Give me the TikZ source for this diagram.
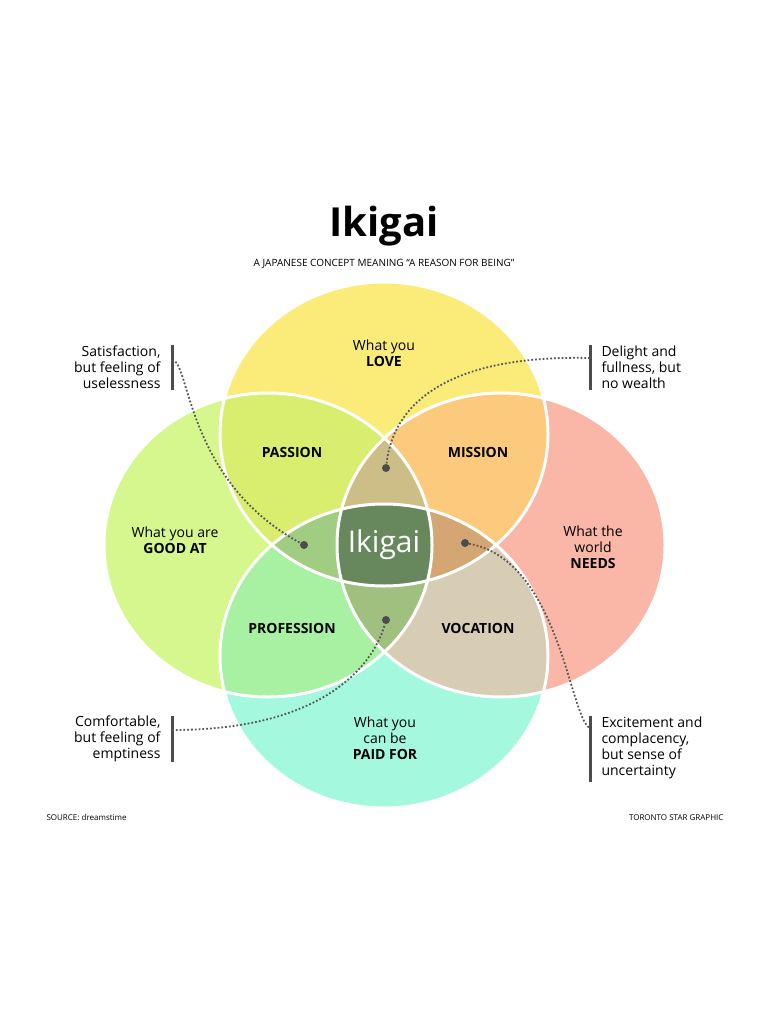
\documentclass[tikz,border=0pt]{standalone}
\usepackage{fontspec}
\setmainfont{Open Sans}
\usetikzlibrary{positioning}
\definecolor{cLove}{RGB}{251,236,122}
\definecolor{cGood}{RGB}{214,246,142}
\definecolor{cNeeds}{RGB}{250,182,166}
\definecolor{cPaid}{RGB}{163,248,222}
\definecolor{cPassion}{RGB}{217,237,110}
\definecolor{cMission}{RGB}{251,202,125}
\definecolor{cProfession}{RGB}{168,241,163}
\definecolor{cVocation}{RGB}{214,205,180}
\definecolor{cUpper}{RGB}{205,190,135}
\definecolor{cLeft}{RGB}{160,205,130}
\definecolor{cRight}{RGB}{212,166,115}
\definecolor{cLower}{RGB}{160,192,128}
\definecolor{cCore}{RGB}{102,136,92}
\def\cTop{(384,434) ellipse (164pt and 152pt)}
\def\cLft{(268,545) ellipse (164pt and 152pt)}
\def\cRgt{(501,545) ellipse (164pt and 152pt)}
\def\cBot{(384,656) ellipse (164pt and 152pt)}
\tikzset{
  label/.style={font=\fontsize{14}{16}\selectfont, align=center},
  region/.style={font=\fontsize{14}{16}\selectfont\bfseries},
  note/.style={font=\fontsize{14}{16}\selectfont},
  bar/.style={line width=3pt, black!70},
  lead/.style={dotted, line width=1.8pt, black!65},
  spot/.style={circle, fill=black!70, inner sep=0pt, minimum size=8pt}
}
\begin{document}
\begin{tikzpicture}[x=1pt, y=-1pt]
  \useasboundingbox (0,0) rectangle (768,1024);
  \fill[white] (0,0) rectangle (768,1024);
  % circles
  \fill[cLove] \cTop;
  \fill[cGood] \cLft;
  \fill[cNeeds] \cRgt;
  \fill[cPaid] \cBot;
  % pairs
  \begin{scope} \clip \cTop; \fill[cPassion] \cLft; \fill[cMission] \cRgt; \end{scope}
  \begin{scope} \clip \cBot; \fill[cProfession] \cLft; \fill[cVocation] \cRgt; \end{scope}
  % triples
  \begin{scope} \clip \cLft; \clip \cRgt; \fill[cUpper] \cTop; \fill[cLower] \cBot; \end{scope}
  \begin{scope} \clip \cTop; \clip \cBot; \fill[cLeft] \cLft; \fill[cRight] \cRgt; \end{scope}
  % core
  \begin{scope} \clip \cTop; \clip \cBot; \clip \cLft; \fill[cCore] \cRgt; \end{scope}
  \draw[white, line width=3pt] \cTop \cLft \cRgt \cBot;
  % titles
  \node[font=\fontsize{40}{44}\selectfont\bfseries] (title) at (384,226) {Ikigai};
  \node[font=\fontsize{10}{12}\selectfont] (sub) at (384,264) {A JAPANESE CONCEPT MEANING “A REASON FOR BEING”};
  % labels
  \node[label] (love) at (384,353) {What you\\\textbf{LOVE}};
  \node[label] (good) at (175,540) {What you are\\\textbf{GOOD AT}};
  \node[label] (needs) at (593,547) {What the\\world\\\textbf{NEEDS}};
  \node[label] (paid) at (385,738) {What you\\can be\\\textbf{PAID FOR}};
  \node[region] (passion) at (292,452) {PASSION};
  \node[region] (mission) at (478,452) {MISSION};
  \node[region] (profession) at (292,628) {PROFESSION};
  \node[region] (vocation) at (478,628) {VOCATION};
  \node[font=\fontsize{30}{32}\selectfont, white] (core) at (384,545) {Ikigai};
  % notes
  \node[note, align=right, anchor=east] (nSat) at (164,367) {Satisfaction,\\but feeling of\\uselessness};
  \node[note, align=left, anchor=west] (nDel) at (598,367) {Delight and\\fullness, but\\no wealth};
  \node[note, align=right, anchor=east] (nCom) at (164,739) {Comfortable,\\but feeling of\\emptiness};
  \node[note, align=left, anchor=west] (nExc) at (598,748) {Excitement and\\complacency,\\but sense of\\uncertainty};
  \coordinate (bSat1) at (172,345); \coordinate (bSat2) at (172,390);
  \coordinate (bDel1) at (590,345); \coordinate (bDel2) at (590,390);
  \coordinate (bCom1) at (172,716); \coordinate (bCom2) at (172,762);
  \coordinate (bExc1) at (590,716); \coordinate (bExc2) at (590,782);
  \draw[bar] (bSat1) -- (bSat2);
  \draw[bar] (bDel1) -- (bDel2);
  \draw[bar] (bCom1) -- (bCom2);
  \draw[bar] (bExc1) -- (bExc2);
  % leaders
  \node[spot] (dLeft) at (304,545) {};
  \node[spot] (dUp) at (386,468) {};
  \node[spot] (dLow) at (386,620) {};
  \node[spot] (dRight) at (465,543) {};
  \coordinate (pSat) at (172,360);
  \coordinate (pDel) at (590,358);
  \coordinate (pCom) at (172,730);
  \coordinate (pExc) at (590,728);
  \draw[lead] (pSat) .. controls (190,360) and (185,480) .. (dLeft);
  \draw[lead] (pDel) .. controls (470,355) and (395,390) .. (dUp);
  \draw[lead] (pCom) .. controls (330,730) and (375,660) .. (dLow);
  \draw[lead] (dRight) .. controls (560,560) and (570,720) .. (pExc);
  % footer
  \node[font=\fontsize{8}{10}\selectfont, anchor=west] (src) at (43,818) {SOURCE: dreamstime};
  \node[font=\fontsize{8}{10}\selectfont, anchor=east] (star) at (727,818) {TORONTO STAR GRAPHIC};
\end{tikzpicture}
\end{document}
